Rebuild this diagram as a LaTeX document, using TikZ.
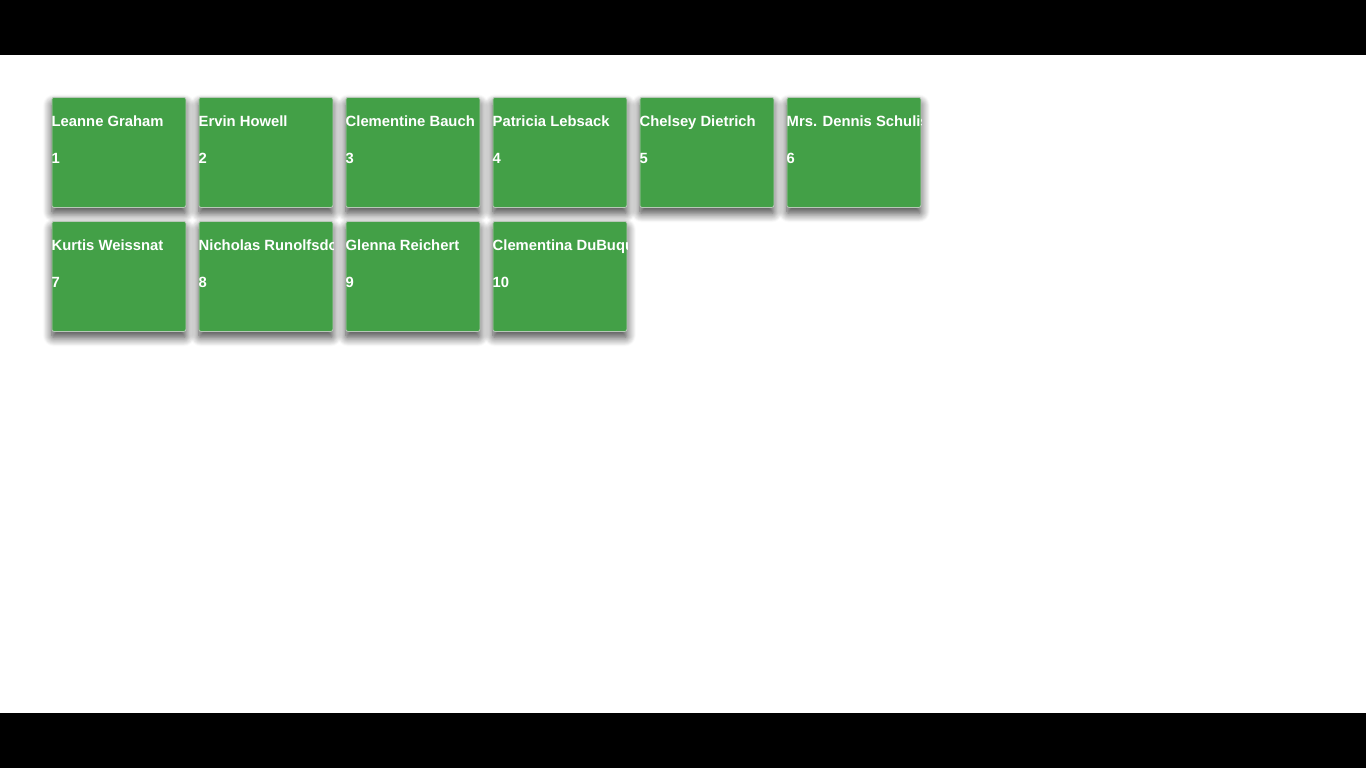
\documentclass[tikz,border=0pt]{standalone}
\usepackage{fontspec}
\setmainfont{Liberation Sans}
\usetikzlibrary{shadows.blur}
\definecolor{cardgreen}{HTML}{43A047}
\definecolor{cardedge}{HTML}{B8C8B8}
\begin{document}
\begin{tikzpicture}[x=1pt,y=-1pt,
  card/.style={draw=cardedge,line width=0.8pt,fill=cardgreen,rounded corners=2pt,
    minimum width=134pt,minimum height=110pt,inner sep=0pt,anchor=north west,
    blur shadow={shadow xshift=0pt,shadow yshift=-6pt,shadow blur steps=10,shadow blur radius=9pt,shadow opacity=75}},
  lbl/.style={anchor=base west,inner sep=0pt,text=white,font=\bfseries\fontsize{14.8}{16}\selectfont}]
\useasboundingbox (0,0) rectangle (1366,768);
\fill[black] (0,0) rectangle (1366,55);
\fill[black] (0,713) rectangle (1366,768);
\foreach \i/\nm/\cx/\cy in {1/Leanne Graham/51/97, 2/Ervin Howell/198/97, 3/Clementine Bauch/345/97,
  4/Patricia Lebsack/492/97, 5/Chelsey Dietrich/639/97, 6/Mrs. Dennis Schulist/786/97,
  7/Kurtis Weissnat/51/221, 8/Nicholas Runolfsdottir V/198/221, 9/Glenna Reichert/345/221,
  10/Clementina DuBuque/492/221}{
  \node[card] (c\i) at (\cx+0.5,\cy) {};
  \begin{scope}
    \clip (c\i.north west) rectangle (c\i.south east);
    \node[lbl] (n\i) at ([yshift=-29pt]c\i.north west) {\nm};
    \node[lbl] (v\i) at ([yshift=-66pt]c\i.north west) {\i};
  \end{scope}
}
\end{tikzpicture}
\end{document}
